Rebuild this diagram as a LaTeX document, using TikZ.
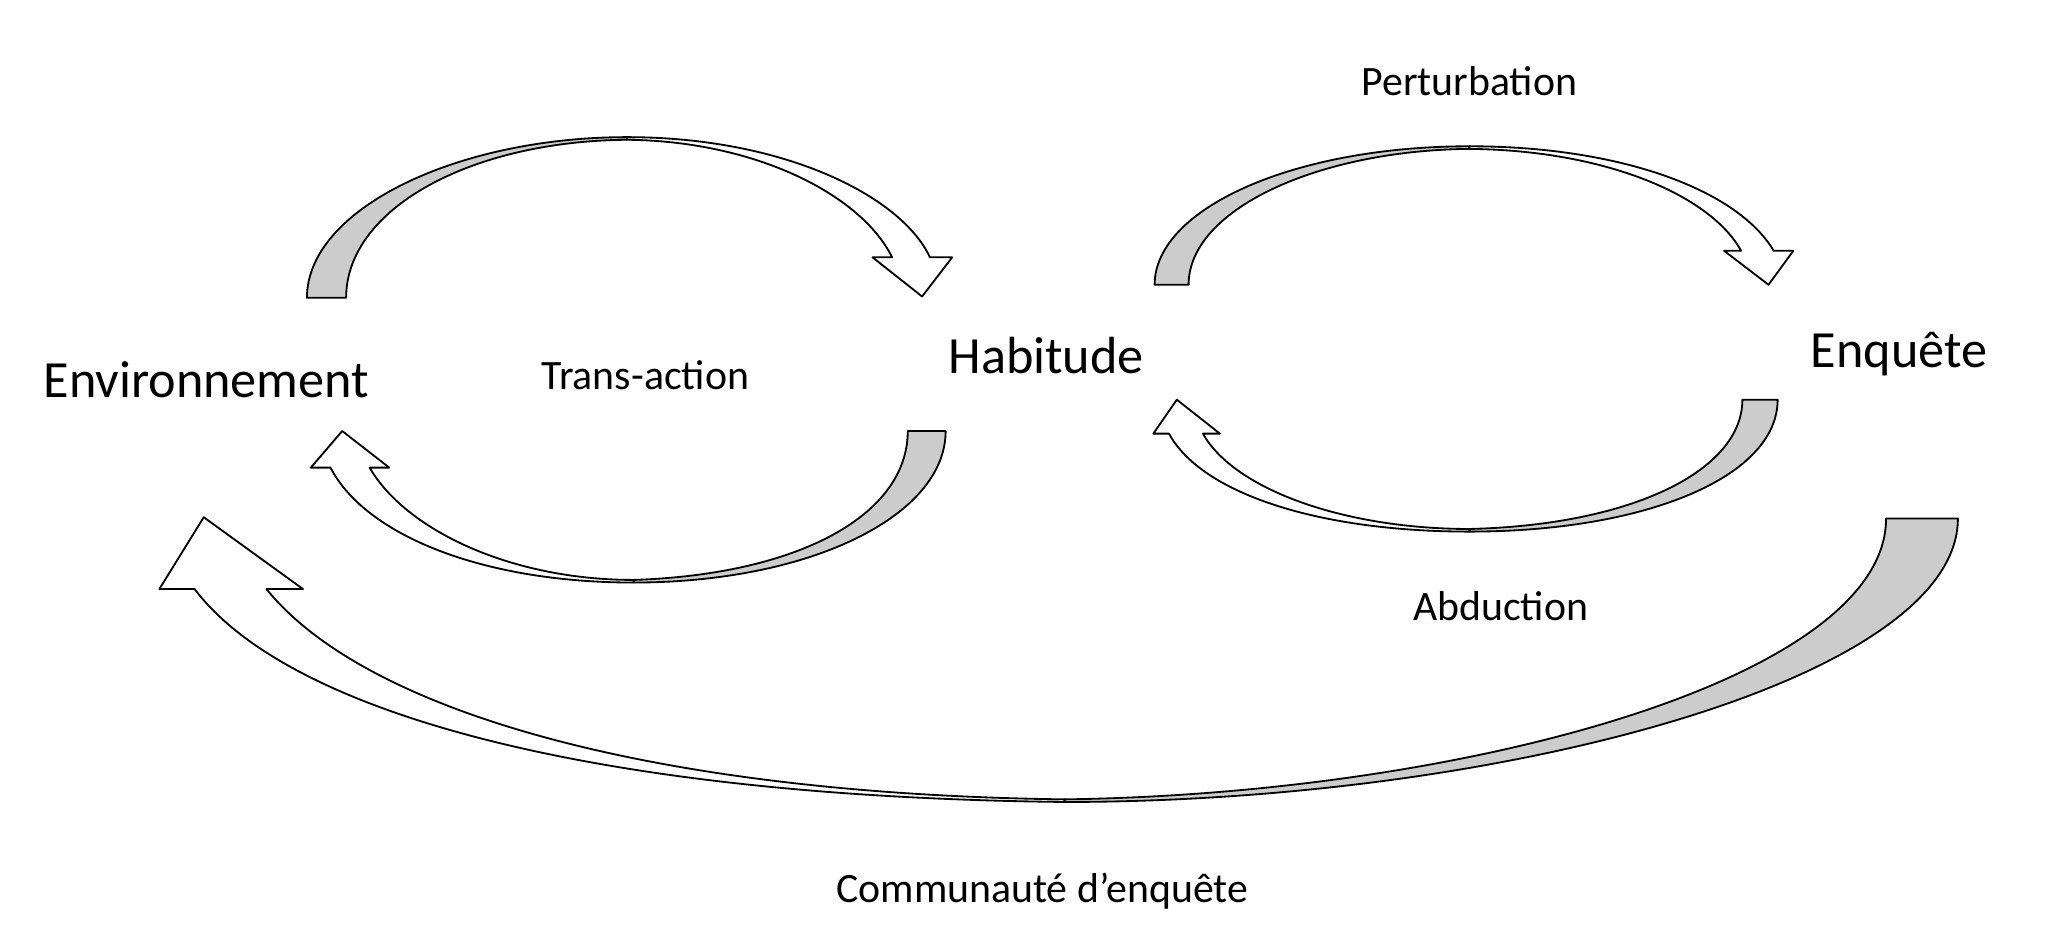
\documentclass[tikz,border=0pt]{standalone}
\usepackage{fontspec}
\setmainfont{Carlito}
\begin{document}
\begin{tikzpicture}[x=0.5pt,y=-0.5pt,
  gray part/.style={fill=black!20,draw=black,line width=0.7pt,line join=round},
  white part/.style={fill=white,draw=black,line width=0.7pt,line join=round},
  big/.style={font=\fontsize{20}{24}\selectfont},
  lab/.style={font=\fontsize{16}{19}\selectfont}]
\useasboundingbox (0,0) rectangle (1568,723);
\fill[white] (0,0) rectangle (1568,723);
% top-left arrow
\path[gray part] (235,228) .. controls (235,160) and (350,105) .. (480,105) -- (480,107) .. controls (360,108) and (265,160) .. (265,228) -- cycle;
\path[white part] (480,105) .. controls (600,105) and (690,150) .. (712,197) -- (729,197) -- (706,227) -- (668,197) -- (683,197) .. controls (660,150) and (580,108) .. (480,107) -- cycle;
% top-right arrow
\path[gray part] (884,218) .. controls (884,160) and (990,112) .. (1125,112) -- (1125,114) .. controls (1010,115) and (910,160) .. (910,218) -- cycle;
\path[white part] (1125,112) .. controls (1240,112) and (1330,145) .. (1358,192) -- (1373,192) -- (1354,218) -- (1320,192) -- (1333,192) .. controls (1310,150) and (1230,115) .. (1125,114) -- cycle;
% bottom-left arrow
\path[gray part] (724,330) .. controls (724,395) and (620,446) .. (485,446) -- (485,444) .. controls (610,440) and (695,395) .. (695,330) -- cycle;
\path[white part] (485,446) .. controls (370,446) and (280,410) .. (253,358) -- (238,358) -- (262,330) -- (298,358) -- (283,358) .. controls (310,405) and (390,444) .. (485,444) -- cycle;
% bottom-right arrow
\path[gray part] (1361,306) .. controls (1361,365) and (1260,407) .. (1125,407) -- (1125,405) .. controls (1250,402) and (1334,360) .. (1334,306) -- cycle;
\path[white part] (1125,407) .. controls (1010,407) and (920,378) .. (895,332) -- (883,332) -- (901,306) -- (934,332) -- (921,332) .. controls (945,375) and (1030,405) .. (1125,405) -- cycle;
% big bottom arrow
\path[gray part] (1499,397) .. controls (1499,520) and (1150,614) .. (815,614) -- (815,612) .. controls (1120,608) and (1444,520) .. (1444,397) -- cycle;
\path[white part] (815,614) .. controls (450,610) and (220,545) .. (149,451) -- (122,451) -- (156,396) -- (232,451) -- (204,451) .. controls (280,545) and (500,608) .. (815,612) -- cycle;
% texts
\node[big] (env) at (158,291) {Environnement};
\node[big] (hab) at (801,272) {Habitude};
\node[big] (enq) at (1454,271) {Enquête};
\node[lab] (ta) at (494,287) {Trans-action};
\node[lab] (pert) at (1125,62) {Perturbation};
\node[lab] (abd) at (1149,464) {Abduction};
\node[lab] (comm) at (798,682) {Communauté d'enquête};
\end{tikzpicture}
\end{document}
